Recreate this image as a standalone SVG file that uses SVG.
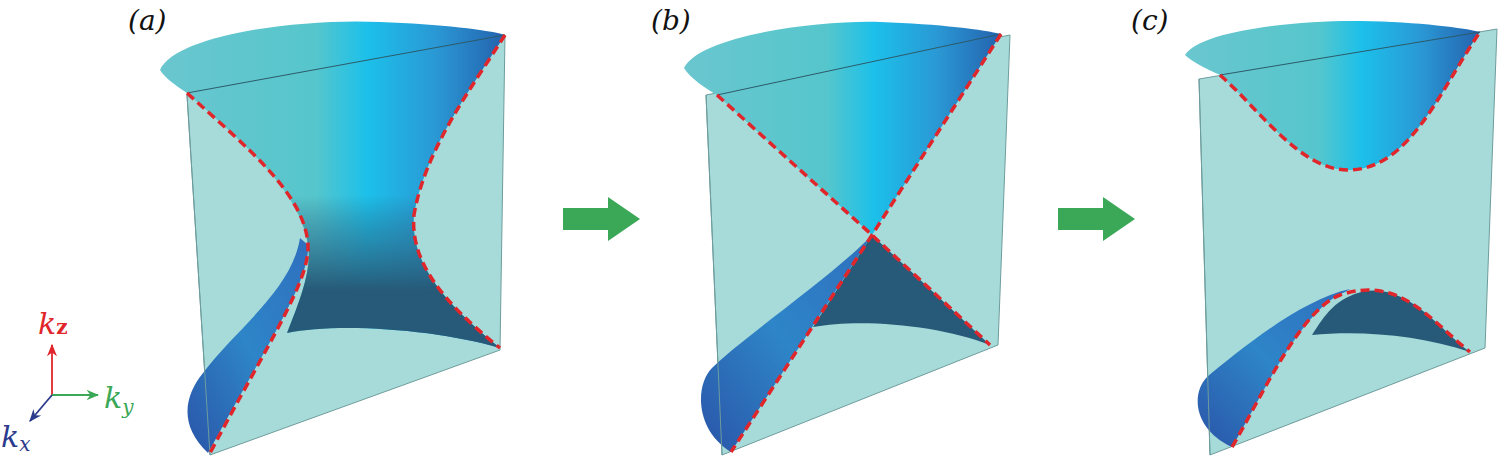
<svg xmlns="http://www.w3.org/2000/svg" width="1500" height="458" viewBox="0 0 1500 458">
<defs>
<linearGradient id="hg" x1="0" y1="0" x2="1" y2="0">
<stop offset="0" stop-color="#6ac6cf"/><stop offset="0.45" stop-color="#56c6cc"/><stop offset="0.6" stop-color="#1cc0ea"/><stop offset="0.8" stop-color="#2a98d4"/><stop offset="1" stop-color="#2462ae"/>
</linearGradient>
<linearGradient id="tg" x1="0" y1="1" x2="1" y2="0">
<stop offset="0" stop-color="#2a55a8"/><stop offset="0.5" stop-color="#2e85c8"/><stop offset="1" stop-color="#2f6fbe"/>
</linearGradient>
<linearGradient id="dk" gradientUnits="userSpaceOnUse" x1="0" y1="195" x2="0" y2="290">
<stop offset="0" stop-color="#265a78" stop-opacity="0"/><stop offset="0.45" stop-color="#2a6a8a" stop-opacity="0.55"/><stop offset="1" stop-color="#265a78" stop-opacity="1"/>
</linearGradient>
<marker id="ar" viewBox="0 0 10 10" refX="9" refY="5" markerWidth="7" markerHeight="7" orient="auto"><path d="M0,1 L10,5 L0,9 L3,5 Z" fill="context-stroke"/></marker>
<style>
.plane{fill:#a6dbd9;stroke:#6e9c9c;stroke-width:1}
.edge{fill:none;stroke:#6e9c9c;stroke-width:1}
.rim{fill:none;stroke:#2c5a6a;stroke-width:1}
.red{fill:none;stroke:#e0262b;stroke-width:3.5;stroke-dasharray:9 5}
.lab{font-family:"DejaVu Serif",serif;font-style:italic;font-size:28px;fill:#111}
.k{font-family:"DejaVu Serif",serif;font-style:italic;font-size:30px}
.arw{fill:#3aa856}
</style>
</defs>

<g id="panel-a">
<path class="plane" d="M187,95 L505,35 L500,350 L210,455 Z"/>
<path fill="url(#tg)" d="M300,238 C292,290 235,330 203,373 C185,395 178,425 208,453 C270,340 310,280 308,245 Z"/>
<path fill="url(#hg)" d="M160,70 C175,35 300,18 380,22 C440,24 490,30 505,35 C470,90 425,150 414,215 C410,260 440,300 500,348 C440,330 340,322 287,333 C300,300 312,270 308,245 C300,190 240,140 187,93 C175,85 165,78 160,70 Z"/>
<path fill="url(#dk)" d="M187,93 L505,35 C470,90 425,150 414,215 C410,260 440,300 500,348 C440,330 340,322 287,333 C300,300 312,270 308,245 C300,190 240,140 187,93 Z"/>
<path class="edge" d="M187,95 L210,455"/>
<path class="rim" d="M187,93 L505,35"/>
<path class="red" d="M187,93 C250,150 305,195 308,245 C310,280 270,340 210,453"/>
<path class="red" d="M505,35 C470,90 425,150 414,215 C410,260 440,300 500,348"/>
</g>

<g id="panel-b">
<path class="plane" d="M706,95 L1010,35 L998,345 L722,455 Z"/>
<path fill="url(#tg)" d="M872,235 C840,270 740,340 712,368 C695,385 695,430 731,452 Z"/>
<path fill="url(#hg)" d="M684,68 C700,35 820,20 880,22 C940,24 985,30 1001,34 L872,235 L717,95 C705,88 690,78 684,68 Z"/>
<path fill="#265a78" d="M872,235 L990,345 C940,325 860,318 813,327 Z"/>
<path class="edge" d="M706,95 L722,455"/>
<path class="rim" d="M717,95 L1001,34"/>
<path class="red" d="M717,95 L872,235 L990,345"/>
<path class="red" d="M1001,34 L872,235 L731,452"/>
</g>

<g id="panel-c">
<path class="plane" d="M1199,79 L1497,29 L1485,348 L1210,455 Z"/>
<path fill="url(#tg)" d="M1350,289 C1300,300 1240,350 1207,377 C1190,395 1195,430 1232,447 C1260,400 1300,310 1345,292 Z"/>
<path fill="url(#hg)" d="M1185,55 C1200,30 1300,20 1360,21 C1420,22 1465,28 1480,32 C1440,90 1410,170 1348,170 C1300,170 1260,110 1220,75 C1205,68 1192,62 1185,55 Z"/>
<path fill="#265a78" d="M1312,335 C1325,315 1335,298 1365,291 C1410,285 1440,330 1470,352 C1420,335 1360,330 1312,335 Z"/>
<path class="edge" d="M1199,79 L1210,455"/>
<path class="rim" d="M1220,75 L1480,32"/>
<path class="red" d="M1220,75 C1260,110 1300,170 1348,170 C1410,170 1440,90 1480,32"/>
<path class="red" d="M1232,447 C1260,400 1300,310 1340,295 C1400,275 1430,320 1470,352"/>
</g>

<g id="arrows">
<path class="arw" d="M563,208 L608,208 L608,197 L640,219 L608,241 L608,230 L563,230 Z"/>
<path class="arw" d="M1058,208 L1103,208 L1103,197 L1135,219 L1103,241 L1103,230 L1058,230 Z"/>
</g>

<g id="labels">
<text class="lab" x="128" y="30">(a)</text>
<text class="lab" x="651" y="30">(b)</text>
<text class="lab" x="1131" y="30">(c)</text>
</g>

<g id="axes">
<line x1="52" y1="395" x2="52" y2="345" stroke="#e0262b" stroke-width="1.8" marker-end="url(#ar)"/>
<line x1="52" y1="395" x2="98" y2="395" stroke="#3aa856" stroke-width="1.8" marker-end="url(#ar)"/>
<line x1="52" y1="395" x2="30" y2="421" stroke="#2a3a8c" stroke-width="1.8" marker-end="url(#ar)"/>
<text class="k" x="38" y="334" fill="#e0262b">k<tspan font-style="normal" font-weight="bold" font-size="20">z</tspan></text>
<text class="k" x="104" y="408" fill="#3aa856">k<tspan font-size="20" dy="6">y</tspan></text>
<text class="k" x="1" y="447" fill="#2a3a8c">k<tspan font-size="20" dy="4">x</tspan></text>
</g>
</svg>
